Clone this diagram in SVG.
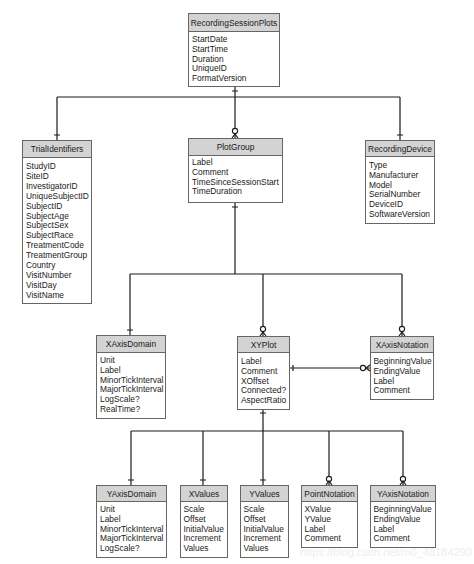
<svg xmlns="http://www.w3.org/2000/svg" width="474" height="564" viewBox="0 0 474 564">
<defs>
<style>
.box{fill:#ffffff;stroke:#666666;stroke-width:1}
.hdr{fill:#d3d3d3;stroke:#666666;stroke-width:1}
.t{font-family:"Liberation Sans",Arial,sans-serif;font-size:8.4px;fill:#1a1a1a}
.h{font-family:"Liberation Sans",Arial,sans-serif;font-size:8.4px;fill:#1a1a1a;text-anchor:middle}
.c{fill:none;stroke:#1a1a1a;stroke-width:1.2}
.o{fill:#ffffff;stroke:#1a1a1a;stroke-width:1.1}
.wm{font-family:"Liberation Sans",Arial,sans-serif;font-size:11px;fill:#eeeeee}
</style>
</defs>
<rect width="474" height="564" fill="#ffffff"/>
<g id="connectors">
<path class="c" d="M235,86V97M57,97H400M57,97V140M400,97V140M235,97V138"/>
<path class="c" d="M232,91H238M54,135H60M397,135H403"/>
<circle class="o" cx="235" cy="131" r="2.6"/>
<path class="c" d="M232,138L235,134L238,138"/>
<path class="c" d="M235,202V274M130,274H402M130,274V335M263,274V336M402,274V336"/>
<path class="c" d="M232,207H238M127,330H133"/>
<circle class="o" cx="263" cy="329" r="2.6"/>
<path class="c" d="M260,336L263,332L266,336"/>
<circle class="o" cx="402" cy="329" r="2.6"/>
<path class="c" d="M399,336L402,332L405,336"/>
<path class="c" d="M289,368H370M293,365V371"/>
<circle class="o" cx="363" cy="368" r="2.6"/>
<path class="c" d="M370,365L366,368L370,371"/>
<path class="c" d="M263,409V431M260,413H266M131,431H403M131,431V485M203,431V485M263,431V485M329,431V485M403,431V485"/>
<path class="c" d="M128,480H134M200,480H206M260,480H266"/>
<circle class="o" cx="329" cy="479" r="2.6"/>
<path class="c" d="M326,485L329,481L332,485"/>
<circle class="o" cx="403" cy="479" r="2.6"/>
<path class="c" d="M400,485L403,481L406,485"/>
</g>
<g id="RecordingSessionPlots">
<rect class="box" x="188.5" y="13.5" width="91" height="73"/>
<rect class="hdr" x="188.5" y="13.5" width="91" height="18"/>
<text class="h" x="234" y="25.5">RecordingSessionPlots</text>
<text class="t" x="192" y="42">StartDate</text>
<text class="t" x="192" y="51.8">StartTime</text>
<text class="t" x="192" y="61.6">Duration</text>
<text class="t" x="192" y="71.4">UniqueID</text>
<text class="t" x="192" y="81.2">FormatVersion</text>
</g>
<g id="TrialIdentifiers">
<rect class="box" x="22.5" y="140.5" width="69" height="163"/>
<rect class="hdr" x="22.5" y="140.5" width="69" height="17"/>
<text class="h" x="57" y="152">TrialIdentifiers</text>
<text class="t" x="26" y="169">StudyID</text>
<text class="t" x="26" y="178.9">SiteID</text>
<text class="t" x="26" y="188.8">InvestigatorID</text>
<text class="t" x="26" y="198.7">UniqueSubjectID</text>
<text class="t" x="26" y="208.6">SubjectID</text>
<text class="t" x="26" y="218.5">SubjectAge</text>
<text class="t" x="26" y="228.4">SubjectSex</text>
<text class="t" x="26" y="238.3">SubjectRace</text>
<text class="t" x="26" y="248.2">TreatmentCode</text>
<text class="t" x="26" y="258.1">TreatmentGroup</text>
<text class="t" x="26" y="268">Country</text>
<text class="t" x="26" y="277.9">VisitNumber</text>
<text class="t" x="26" y="287.8">VisitDay</text>
<text class="t" x="26" y="297.7">VisitName</text>
</g>
<g id="PlotGroup">
<rect class="box" x="188.5" y="138.5" width="94" height="64"/>
<rect class="hdr" x="188.5" y="138.5" width="94" height="17"/>
<text class="h" x="235.5" y="150">PlotGroup</text>
<text class="t" x="192" y="165">Label</text>
<text class="t" x="192" y="174.8">Comment</text>
<text class="t" x="192" y="184.6">TimeSinceSessionStart</text>
<text class="t" x="192" y="194.4">TimeDuration</text>
</g>
<g id="RecordingDevice">
<rect class="box" x="365.5" y="140.5" width="69" height="83"/>
<rect class="hdr" x="365.5" y="140.5" width="69" height="16"/>
<text class="h" x="400" y="151.5">RecordingDevice</text>
<text class="t" x="369" y="168">Type</text>
<text class="t" x="369" y="177.8">Manufacturer</text>
<text class="t" x="369" y="187.6">Model</text>
<text class="t" x="369" y="197.4">SerialNumber</text>
<text class="t" x="369" y="207.2">DeviceID</text>
<text class="t" x="369" y="217">SoftwareVersion</text>
</g>
<g id="XAxisDomain">
<rect class="box" x="96.5" y="335.5" width="69" height="83"/>
<rect class="hdr" x="96.5" y="335.5" width="69" height="17"/>
<text class="h" x="131" y="347">XAxisDomain</text>
<text class="t" x="100" y="363">Unit</text>
<text class="t" x="100" y="372.8">Label</text>
<text class="t" x="100" y="382.6">MinorTickInterval</text>
<text class="t" x="100" y="392.4">MajorTickInterval</text>
<text class="t" x="100" y="402.2">LogScale?</text>
<text class="t" x="100" y="412">RealTime?</text>
</g>
<g id="XYPlot">
<rect class="box" x="237.5" y="336.5" width="52" height="73"/>
<rect class="hdr" x="237.5" y="336.5" width="52" height="16"/>
<text class="h" x="263.5" y="347.5">XYPlot</text>
<text class="t" x="241" y="364">Label</text>
<text class="t" x="241" y="373.8">Comment</text>
<text class="t" x="241" y="383.6">XOffset</text>
<text class="t" x="241" y="393.4">Connected?</text>
<text class="t" x="241" y="403.2">AspectRatio</text>
</g>
<g id="XAxisNotation">
<rect class="box" x="370.5" y="336.5" width="63" height="63"/>
<rect class="hdr" x="370.5" y="336.5" width="63" height="16"/>
<text class="h" x="402" y="347.5">XAxisNotation</text>
<text class="t" x="373.5" y="364">BeginningValue</text>
<text class="t" x="373.5" y="373.8">EndingValue</text>
<text class="t" x="373.5" y="383.6">Label</text>
<text class="t" x="373.5" y="393.4">Comment</text>
</g>
<g id="YAxisDomain">
<rect class="box" x="96.5" y="485.5" width="70" height="72"/>
<rect class="hdr" x="96.5" y="485.5" width="70" height="16"/>
<text class="h" x="131.5" y="496.5">YAxisDomain</text>
<text class="t" x="100" y="512">Unit</text>
<text class="t" x="100" y="521.8">Label</text>
<text class="t" x="100" y="531.6">MinorTickInterval</text>
<text class="t" x="100" y="541.4">MajorTickInterval</text>
<text class="t" x="100" y="551.2">LogScale?</text>
</g>
<g id="XValues">
<rect class="box" x="180.5" y="485.5" width="47" height="72"/>
<rect class="hdr" x="180.5" y="485.5" width="47" height="16"/>
<text class="h" x="204" y="496.5">XValues</text>
<text class="t" x="183.5" y="512">Scale</text>
<text class="t" x="183.5" y="521.8">Offset</text>
<text class="t" x="183.5" y="531.6">InitialValue</text>
<text class="t" x="183.5" y="541.4">Increment</text>
<text class="t" x="183.5" y="551.2">Values</text>
</g>
<g id="YValues">
<rect class="box" x="240.5" y="485.5" width="48" height="72"/>
<rect class="hdr" x="240.5" y="485.5" width="48" height="16"/>
<text class="h" x="264.5" y="496.5">YValues</text>
<text class="t" x="243.5" y="512">Scale</text>
<text class="t" x="243.5" y="521.8">Offset</text>
<text class="t" x="243.5" y="531.6">InitialValue</text>
<text class="t" x="243.5" y="541.4">Increment</text>
<text class="t" x="243.5" y="551.2">Values</text>
</g>
<g id="PointNotation">
<rect class="box" x="301.5" y="485.5" width="56" height="62"/>
<rect class="hdr" x="301.5" y="485.5" width="56" height="16"/>
<text class="h" x="329.5" y="496.5">PointNotation</text>
<text class="t" x="304.5" y="512">XValue</text>
<text class="t" x="304.5" y="521.8">YValue</text>
<text class="t" x="304.5" y="531.6">Label</text>
<text class="t" x="304.5" y="541.4">Comment</text>
</g>
<g id="YAxisNotation">
<rect class="box" x="370.5" y="485.5" width="65" height="62"/>
<rect class="hdr" x="370.5" y="485.5" width="65" height="16"/>
<text class="h" x="403" y="496.5">YAxisNotation</text>
<text class="t" x="373.5" y="512">BeginningValue</text>
<text class="t" x="373.5" y="521.8">EndingValue</text>
<text class="t" x="373.5" y="531.6">Label</text>
<text class="t" x="373.5" y="541.4">Comment</text>
</g>
<text class="wm" x="300" y="556">https://blog.csdn.net/m0_48184290</text>
</svg>
